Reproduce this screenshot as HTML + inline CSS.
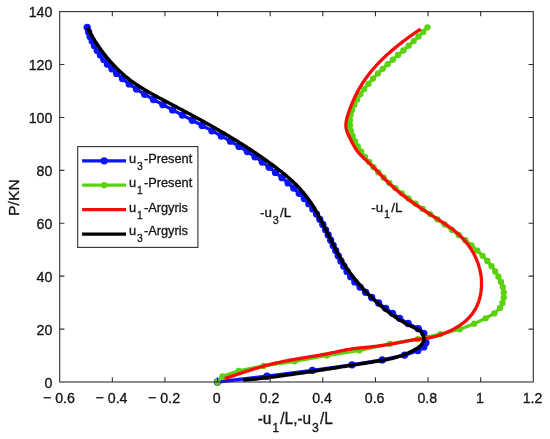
<!DOCTYPE html>
<html><head><meta charset="utf-8"><title>Load-displacement curves</title>
<style>html,body{margin:0;padding:0;background:#fff;width:550px;height:439px;overflow:hidden}</style></head>
<body>
<svg width="550" height="439" viewBox="0 0 550 439" style="display:block;position:absolute;left:0;top:0" font-family="Liberation Sans, Arial, Helvetica, sans-serif" fill="#141414" stroke="#141414" stroke-width="0.3">
<rect width="550" height="439" fill="#fff" stroke="none"/>
<path d="M87.2,27.3 L87.8,29.0 L88.1,30.2 L88.4,31.3 L88.7,32.4 L89.1,33.6 L89.5,34.7 L89.8,35.8 L90.2,37.0 L90.7,38.1 L91.2,39.1 L91.7,40.2 L92.2,41.3 L92.8,42.4 L93.3,43.4 L93.9,44.5 L94.4,45.6 L95.0,46.6 L95.6,47.7 L96.2,48.7 L96.9,49.7 L97.5,50.7 L98.2,51.7 L98.9,52.8 L99.6,53.8 L100.3,54.8 L101.0,55.8 L101.7,56.7 L102.4,57.7 L103.1,58.7 L103.8,59.7 L104.6,60.7 L105.3,61.6 L106.1,62.6 L106.9,63.5 L107.7,64.4 L108.5,65.3 L109.3,66.2 L110.2,67.1 L111.0,68.0 L111.9,68.8 L112.7,69.7 L113.6,70.5 L114.4,71.4 L115.3,72.2 L116.2,73.1 L117.1,73.9 L118.0,74.7 L118.9,75.5 L119.8,76.3 L120.7,77.1 L121.6,77.9 L122.5,78.6 L123.4,79.4 L124.3,80.1 L125.3,80.9 L126.2,81.6 L127.2,82.3 L128.1,83.1 L129.0,83.8 L130.0,84.5 L131.0,85.2 L131.9,85.9 L132.9,86.6 L133.8,87.2 L134.8,87.9 L135.8,88.6 L136.8,89.2 L137.8,89.9 L138.7,90.5 L139.7,91.2 L140.7,91.8 L141.7,92.4 L142.7,93.1 L143.7,93.7 L144.7,94.3 L145.7,94.9 L146.7,95.5 L147.7,96.1 L148.7,96.7 L149.8,97.3 L150.8,97.9 L151.8,98.5 L152.8,99.1 L153.8,99.7 L154.9,100.2 L155.9,100.8 L156.9,101.4 L157.9,102.0 L159.0,102.5 L160.0,103.1 L161.0,103.7 L162.0,104.2 L163.1,104.8 L164.1,105.4 L165.1,105.9 L166.2,106.5 L167.2,107.0 L168.2,107.6 L169.3,108.1 L170.3,108.7 L171.4,109.3 L172.4,109.8 L173.4,110.4 L174.5,110.9 L175.5,111.5 L176.6,112.0 L177.6,112.6 L178.6,113.1 L179.7,113.7 L180.7,114.2 L181.8,114.8 L182.8,115.3 L183.9,115.9 L184.9,116.4 L186.0,117.0 L187.0,117.5 L188.0,118.1 L189.1,118.6 L190.1,119.2 L191.2,119.7 L192.2,120.3 L193.3,120.8 L194.3,121.4 L195.4,121.9 L196.4,122.5 L197.4,123.0 L198.5,123.6 L199.5,124.1 L200.6,124.7 L201.6,125.2 L202.6,125.8 L203.7,126.3 L204.7,126.9 L205.8,127.5 L206.8,128.0 L207.8,128.6 L208.9,129.1 L209.9,129.7 L210.9,130.3 L212.0,130.8 L213.0,131.4 L214.0,131.9 L215.1,132.5 L216.1,133.1 L217.1,133.6 L218.2,134.2 L219.2,134.8 L220.2,135.4 L221.2,135.9 L222.3,136.5 L223.3,137.1 L224.3,137.7 L225.3,138.2 L226.3,138.8 L227.3,139.4 L228.4,140.0 L229.4,140.6 L230.4,141.2 L231.4,141.8 L232.4,142.4 L233.4,143.0 L234.4,143.6 L235.4,144.2 L236.4,144.8 L237.4,145.4 L238.4,146.0 L239.4,146.6 L240.4,147.2 L241.3,147.8 L242.3,148.4 L243.3,149.0 L244.3,149.7 L245.3,150.3 L246.2,150.9 L247.2,151.6 L248.2,152.2 L249.1,152.8 L250.1,153.5 L251.1,154.1 L252.0,154.7 L253.0,155.4 L253.9,156.0 L254.9,156.7 L255.8,157.4 L256.8,158.0 L257.7,158.7 L258.7,159.3 L259.6,160.0 L260.5,160.7 L261.5,161.4 L262.4,162.1 L263.3,162.7 L264.2,163.4 L265.1,164.1 L266.0,164.8 L267.0,165.5 L267.9,166.2 L268.8,166.9 L269.7,167.6 L270.6,168.3 L271.4,169.1 L272.3,169.8 L273.2,170.5 L274.1,171.2 L275.0,172.0 L275.8,172.7 L276.7,173.4 L277.6,174.1 L278.5,174.9 L279.4,175.6 L280.3,176.3 L281.2,177.0 L282.1,177.7 L283.0,178.5 L283.9,179.2 L284.7,179.9 L285.6,180.7 L286.5,181.4 L287.3,182.2 L288.2,183.0 L289.0,183.7 L289.9,184.5 L290.7,185.3 L291.6,186.0 L292.4,186.8 L293.3,187.6 L294.1,188.4 L295.0,189.2 L295.8,190.0 L296.6,190.8 L297.5,191.6 L298.3,192.4 L299.1,193.2 L299.9,194.0 L300.8,194.8 L301.6,195.6 L302.4,196.5 L303.2,197.3 L304.0,198.1 L304.8,199.0 L305.6,199.8 L306.3,200.7 L307.1,201.6 L307.8,202.5 L308.5,203.4 L309.3,204.3 L310.0,205.2 L310.7,206.1 L311.4,207.0 L312.1,208.0 L312.7,208.9 L313.4,209.8 L314.1,210.8 L314.8,211.7 L315.4,212.7 L316.1,213.6 L316.8,214.6 L317.4,215.5 L318.0,216.5 L318.6,217.5 L319.3,218.5 L319.9,219.5 L320.5,220.5 L321.0,221.5 L321.6,222.5 L322.2,223.5 L322.8,224.5 L323.3,225.5 L323.9,226.6 L324.4,227.6 L325.0,228.6 L325.5,229.7 L326.1,230.7 L326.6,231.7 L327.1,232.8 L327.6,233.8 L328.2,234.9 L328.7,235.9 L329.2,237.0 L329.7,238.1 L330.2,239.1 L330.7,240.2 L331.2,241.2 L331.7,242.3 L332.2,243.4 L332.7,244.4 L333.2,245.5 L333.7,246.6 L334.2,247.6 L334.7,248.7 L335.3,249.8 L335.8,250.8 L336.3,251.9 L336.8,252.9 L337.3,254.0 L337.8,255.1 L338.4,256.1 L338.9,257.2 L339.4,258.2 L340.0,259.3 L340.5,260.3 L341.1,261.3 L341.7,262.4 L342.2,263.4 L342.8,264.4 L343.4,265.5 L344.0,266.5 L344.6,267.5 L345.2,268.5 L345.8,269.5 L346.4,270.5 L347.1,271.5 L347.7,272.5 L348.4,273.5 L349.1,274.4 L349.7,275.4 L350.4,276.4 L351.1,277.3 L351.9,278.3 L352.6,279.2 L353.3,280.1 L354.1,281.0 L354.9,281.9 L355.7,282.8 L356.5,283.6 L357.3,284.5 L358.2,285.3 L359.0,286.1 L359.9,287.0 L360.7,287.8 L361.6,288.6 L362.5,289.4 L363.3,290.2 L364.2,291.0 L365.1,291.8 L366.0,292.6 L366.9,293.4 L367.8,294.1 L368.7,294.9 L369.6,295.7 L370.5,296.5 L371.4,297.2 L372.3,298.0 L373.2,298.7 L374.1,299.5 L375.1,300.2 L376.0,300.9 L376.9,301.7 L377.8,302.4 L378.8,303.1 L379.7,303.8 L380.7,304.6 L381.6,305.3 L382.5,306.0 L383.5,306.7 L384.4,307.4 L385.4,308.1 L386.3,308.7 L387.3,309.4 L388.2,310.1 L389.1,310.8 L390.1,311.5 L391.0,312.2 L391.9,312.9 L392.9,313.6 L393.8,314.3 L394.8,315.0 L395.7,315.6 L396.7,316.3 L397.6,316.9 L398.6,317.6 L399.5,318.2 L400.5,318.9 L401.4,319.5 L402.4,320.1 L403.4,320.7 L404.4,321.3 L405.4,321.9 L406.4,322.5 L407.4,323.1 L408.4,323.6 L409.4,324.2 L410.4,324.7 L411.5,325.3 L412.5,325.8 L413.5,326.3 L414.6,326.8 L415.7,327.3 L416.8,327.9 L417.8,328.4 L418.9,329.0 L419.9,329.7 L420.9,330.4 L421.8,331.1 L422.7,332.0 L423.5,332.9 L424.2,334.0 L424.9,335.1 L425.3,336.3 L425.9,342.7 L423.8,346.9 L417.9,350.6 L404.6,355.1 L382.2,359.9 L352.0,364.8 L312.4,370.3 L267.0,376.2 L217.4,382.0" fill="none" stroke="#0a14f5" stroke-width="3.3" stroke-linejoin="round"/>
<g fill="#0a14f5" stroke="none"><circle cx="87.2" cy="27.3" r="3.65"/><circle cx="88.6" cy="31.9" r="3.65"/><circle cx="90.1" cy="36.5" r="3.65"/><circle cx="92.2" cy="41.1" r="3.65"/><circle cx="94.5" cy="45.7" r="3.65"/><circle cx="97.3" cy="50.4" r="3.65"/><circle cx="100.4" cy="55.0" r="3.65"/><circle cx="103.8" cy="59.6" r="3.65"/><circle cx="107.5" cy="64.2" r="3.65"/><circle cx="111.9" cy="68.8" r="3.65"/><circle cx="116.6" cy="73.4" r="3.65"/><circle cx="122.5" cy="78.6" r="3.65"/><circle cx="129.2" cy="83.9" r="3.65"/><circle cx="136.5" cy="89.1" r="3.65"/><circle cx="144.7" cy="94.3" r="3.65"/><circle cx="153.5" cy="99.5" r="3.65"/><circle cx="162.9" cy="104.7" r="3.65"/><circle cx="172.6" cy="109.9" r="3.65"/><circle cx="182.4" cy="115.1" r="3.65"/><circle cx="192.3" cy="120.3" r="3.65"/><circle cx="202.2" cy="125.5" r="3.65"/><circle cx="211.9" cy="130.8" r="3.65"/><circle cx="221.3" cy="136.0" r="3.65"/><circle cx="230.4" cy="141.2" r="3.65"/><circle cx="239.0" cy="146.4" r="3.65"/><circle cx="247.3" cy="151.6" r="3.65"/><circle cx="255.0" cy="156.8" r="3.65"/><circle cx="262.3" cy="162.0" r="3.65"/><circle cx="269.2" cy="167.2" r="3.65"/><circle cx="275.5" cy="172.4" r="3.65"/><circle cx="282.0" cy="177.7" r="3.65"/><circle cx="288.1" cy="182.9" r="3.65"/><circle cx="293.8" cy="188.1" r="3.65"/><circle cx="299.2" cy="193.3" r="3.65"/><circle cx="304.3" cy="198.5" r="3.65"/><circle cx="308.8" cy="203.7" r="3.65"/><circle cx="312.8" cy="208.9" r="3.65"/><circle cx="316.5" cy="214.1" r="3.65"/><circle cx="319.8" cy="219.3" r="3.65"/><circle cx="322.8" cy="224.5" r="3.65"/><circle cx="325.6" cy="229.8" r="3.65"/><circle cx="328.2" cy="235.0" r="3.65"/><circle cx="330.7" cy="240.2" r="3.65"/><circle cx="333.2" cy="245.4" r="3.65"/><circle cx="335.7" cy="250.6" r="3.65"/><circle cx="338.2" cy="255.8" r="3.65"/><circle cx="340.9" cy="261.0" r="3.65"/><circle cx="343.8" cy="266.2" r="3.65"/><circle cx="347.0" cy="271.4" r="3.65"/><circle cx="350.7" cy="276.7" r="3.65"/><circle cx="354.8" cy="281.9" r="3.65"/><circle cx="360.0" cy="287.1" r="3.65"/><circle cx="365.6" cy="292.3" r="3.65"/><circle cx="371.7" cy="297.5" r="3.65"/><circle cx="378.6" cy="303.0" r="3.65"/><circle cx="385.7" cy="308.3" r="3.65"/><circle cx="392.5" cy="313.3" r="3.65"/><circle cx="399.6" cy="318.3" r="3.65"/><circle cx="408.1" cy="323.5" r="3.65"/><circle cx="418.3" cy="328.7" r="3.65"/><circle cx="423.8" cy="333.3" r="3.65"/><circle cx="425.3" cy="337.8" r="3.65"/><circle cx="425.9" cy="342.7" r="3.65"/><circle cx="423.8" cy="346.9" r="3.65"/><circle cx="417.9" cy="350.6" r="3.65"/><circle cx="404.6" cy="355.1" r="3.65"/><circle cx="382.2" cy="359.9" r="3.65"/><circle cx="352.0" cy="364.8" r="3.65"/><circle cx="312.4" cy="370.3" r="3.65"/><circle cx="267.0" cy="376.2" r="3.65"/><circle cx="217.4" cy="382.0" r="3.65"/></g>
<path d="M427.5,27.3 L426.8,28.0 L426.2,28.7 L425.5,29.4 L424.9,30.1 L424.2,30.8 L423.5,31.5 L422.9,32.2 L422.2,32.9 L421.5,33.5 L420.9,34.2 L420.2,34.9 L419.5,35.6 L418.8,36.2 L418.2,36.9 L417.5,37.5 L416.8,38.2 L416.1,38.8 L415.4,39.5 L414.7,40.1 L414.0,40.8 L413.3,41.4 L412.7,42.1 L412.0,42.7 L411.3,43.3 L410.6,44.0 L409.9,44.6 L409.2,45.2 L408.5,45.9 L407.8,46.5 L407.1,47.1 L406.4,47.7 L405.7,48.3 L405.0,49.0 L404.3,49.6 L403.6,50.2 L402.9,50.8 L402.2,51.4 L401.5,52.1 L400.8,52.7 L400.1,53.3 L399.4,53.9 L398.6,54.5 L397.9,55.1 L397.2,55.8 L396.5,56.4 L395.8,57.0 L395.1,57.6 L394.4,58.2 L393.7,58.9 L393.0,59.5 L392.3,60.1 L391.6,60.7 L390.9,61.4 L390.2,62.0 L389.5,62.6 L388.8,63.2 L388.1,63.9 L387.4,64.5 L386.7,65.2 L386.0,65.8 L385.3,66.4 L384.6,67.1 L383.9,67.7 L383.2,68.4 L382.5,69.0 L381.8,69.7 L381.1,70.3 L380.5,71.0 L379.8,71.7 L379.1,72.3 L378.4,73.0 L377.8,73.7 L377.1,74.3 L376.4,75.0 L375.7,75.7 L375.1,76.4 L374.4,77.1 L373.8,77.8 L373.1,78.5 L372.5,79.2 L371.8,79.9 L371.2,80.6 L370.5,81.3 L369.9,82.1 L369.2,82.8 L368.6,83.5 L368.0,84.3 L367.4,85.0 L366.8,85.8 L366.1,86.5 L365.5,87.3 L364.9,88.1 L364.3,88.9 L363.7,89.6 L363.1,90.4 L362.5,91.2 L362.0,92.0 L361.4,92.8 L360.8,93.6 L360.3,94.4 L359.7,95.3 L359.2,96.1 L358.6,96.9 L358.1,97.8 L357.6,98.6 L357.1,99.4 L356.6,100.3 L356.1,101.1 L355.7,102.0 L355.2,102.8 L354.8,103.7 L354.4,104.6 L354.0,105.4 L353.6,106.3 L353.2,107.2 L352.8,108.1 L352.5,108.9 L352.2,109.8 L351.9,110.7 L351.6,111.6 L351.3,112.4 L351.1,113.3 L350.8,114.2 L350.6,115.1 L350.4,116.0 L350.3,116.9 L350.1,117.8 L350.0,118.7 L349.9,119.5 L349.9,120.4 L349.8,121.3 L349.8,122.2 L349.8,123.1 L349.8,124.0 L349.9,124.9 L350.0,125.7 L350.1,126.6 L350.2,127.5 L350.4,128.4 L350.6,129.3 L350.8,130.2 L351.0,131.0 L351.2,131.9 L351.5,132.8 L351.7,133.6 L352.0,134.5 L352.4,135.4 L352.7,136.2 L353.0,137.1 L353.4,138.0 L353.8,138.8 L354.2,139.7 L354.6,140.5 L355.0,141.4 L355.4,142.2 L355.9,143.0 L356.4,143.9 L356.8,144.7 L357.3,145.5 L357.8,146.4 L358.3,147.2 L358.8,148.0 L359.3,148.8 L359.9,149.6 L360.4,150.4 L360.9,151.2 L361.5,152.0 L362.0,152.8 L362.6,153.6 L363.2,154.4 L363.7,155.2 L364.3,155.9 L364.9,156.7 L365.4,157.5 L366.0,158.2 L366.6,159.0 L367.2,159.7 L367.8,160.5 L368.4,161.2 L369.0,161.9 L369.6,162.7 L370.2,163.4 L370.8,164.1 L371.4,164.8 L372.0,165.5 L372.7,166.3 L373.3,167.0 L373.9,167.7 L374.6,168.4 L375.2,169.1 L375.8,169.7 L376.5,170.4 L377.1,171.1 L377.8,171.8 L378.4,172.5 L379.1,173.1 L379.8,173.8 L380.4,174.5 L381.1,175.1 L381.8,175.8 L382.4,176.5 L383.1,177.1 L383.8,177.8 L384.5,178.4 L385.1,179.1 L385.8,179.7 L386.5,180.3 L387.2,181.0 L387.9,181.6 L388.6,182.2 L389.3,182.8 L390.0,183.5 L390.7,184.1 L391.4,184.7 L392.1,185.3 L392.8,185.9 L393.5,186.5 L394.3,187.2 L395.0,187.8 L395.7,188.4 L396.4,189.0 L397.2,189.6 L397.9,190.2 L398.6,190.8 L399.3,191.3 L400.1,191.9 L400.8,192.5 L401.5,193.1 L402.3,193.7 L403.0,194.3 L403.8,194.9 L404.5,195.4 L405.3,196.0 L406.0,196.6 L406.8,197.2 L407.5,197.7 L408.3,198.3 L409.0,198.9 L409.8,199.4 L410.5,200.0 L411.3,200.6 L412.0,201.1 L412.8,201.7 L413.6,202.3 L414.3,202.8 L415.1,203.4 L415.9,204.0 L416.6,204.5 L417.4,205.1 L418.2,205.6 L418.9,206.2 L419.7,206.7 L420.5,207.3 L421.2,207.9 L422.0,208.4 L422.8,209.0 L423.6,209.5 L424.3,210.1 L425.1,210.6 L425.9,211.2 L426.7,211.7 L427.4,212.3 L428.2,212.8 L429.0,213.4 L429.8,213.9 L430.5,214.5 L431.3,215.0 L432.1,215.6 L432.9,216.1 L433.7,216.7 L434.4,217.2 L435.2,217.8 L436.0,218.4 L436.8,218.9 L437.6,219.5 L438.3,220.0 L439.1,220.6 L439.9,221.1 L440.7,221.7 L441.5,222.2 L442.2,222.8 L443.0,223.4 L443.8,223.9 L444.6,224.5 L445.3,225.0 L446.1,225.6 L446.9,226.2 L447.7,226.7 L448.5,227.3 L449.2,227.9 L450.0,228.4 L450.8,229.0 L451.5,229.6 L452.3,230.2 L453.1,230.7 L453.9,231.3 L454.6,231.9 L455.4,232.5 L456.2,233.1 L456.9,233.6 L457.7,234.2 L458.5,234.8 L459.2,235.4 L460.0,236.0 L460.7,236.6 L461.5,237.2 L462.3,237.8 L463.0,238.4 L463.8,239.0 L464.5,239.6 L465.3,240.2 L466.0,240.8 L466.8,241.4 L467.5,242.0 L468.2,242.6 L469.0,243.3 L469.7,243.9 L470.5,244.5 L471.2,245.1 L471.9,245.8 L472.6,246.4 L473.4,247.0 L474.1,247.7 L474.8,248.3 L475.5,249.0 L476.2,249.6 L476.9,250.3 L477.6,250.9 L478.3,251.6 L479.0,252.2 L479.7,252.9 L480.4,253.6 L481.0,254.2 L481.7,254.9 L482.4,255.6 L483.0,256.3 L483.7,257.0 L484.3,257.7 L485.0,258.4 L485.6,259.1 L486.2,259.8 L486.9,260.5 L487.5,261.2 L488.1,261.9 L488.7,262.6 L489.3,263.3 L489.9,264.1 L490.5,264.8 L491.0,265.5 L491.6,266.3 L492.2,267.0 L492.7,267.8 L493.3,268.5 L493.8,269.3 L494.3,270.0 L494.8,270.8 L495.3,271.6 L495.8,272.4 L496.3,273.2 L496.8,273.9 L497.3,274.7 L497.8,275.5 L498.2,276.3 L498.7,277.2 L499.1,278.0 L499.5,278.8 L499.9,279.6 L500.3,280.4 L500.7,281.3 L501.1,282.1 L501.4,283.0 L501.8,283.8 L502.1,284.7 L502.4,285.5 L502.6,286.4 L502.9,287.2 L503.1,288.1 L503.3,289.0 L503.5,289.9 L503.6,290.7 L503.7,291.6 L503.8,292.5 L503.9,293.4 L503.9,294.3 L503.9,295.2 L503.9,296.1 L503.8,297.0 L503.8,297.9 L503.6,298.8 L503.4,299.7 L503.2,300.6 L503.0,301.5 L502.7,302.4 L502.4,303.3 L502.0,304.2 L501.6,305.1 L501.1,306.1 L500.6,307.0 L500.1,307.9 L494.3,313.4 L485.6,318.3 L474.3,323.7 L459.7,329.2 L440.4,334.1 L417.8,339.2 L389.7,343.8 L359.3,350.4 L326.8,355.5 L294.6,361.3 L263.6,365.9 L238.8,370.9 L222.5,376.4 L217.4,382.0" fill="none" stroke="#5ad20f" stroke-width="3.3" stroke-linejoin="round"/>
<g fill="#5ad20f" stroke="none"><circle cx="427.5" cy="27.3" r="3.15"/><circle cx="423.2" cy="31.9" r="3.15"/><circle cx="418.5" cy="36.5" r="3.15"/><circle cx="413.7" cy="41.1" r="3.15"/><circle cx="408.6" cy="45.7" r="3.15"/><circle cx="403.4" cy="50.4" r="3.15"/><circle cx="398.1" cy="55.0" r="3.15"/><circle cx="392.9" cy="59.6" r="3.15"/><circle cx="387.7" cy="64.2" r="3.15"/><circle cx="382.7" cy="68.8" r="3.15"/><circle cx="378.0" cy="73.4" r="3.15"/><circle cx="373.0" cy="78.6" r="3.15"/><circle cx="368.4" cy="83.9" r="3.15"/><circle cx="364.2" cy="89.1" r="3.15"/><circle cx="360.4" cy="94.3" r="3.15"/><circle cx="357.1" cy="99.5" r="3.15"/><circle cx="354.3" cy="104.7" r="3.15"/><circle cx="352.1" cy="109.9" r="3.15"/><circle cx="350.6" cy="115.1" r="3.15"/><circle cx="349.9" cy="120.3" r="3.15"/><circle cx="350.0" cy="125.5" r="3.15"/><circle cx="350.9" cy="130.8" r="3.15"/><circle cx="352.6" cy="136.0" r="3.15"/><circle cx="354.9" cy="141.2" r="3.15"/><circle cx="357.8" cy="146.4" r="3.15"/><circle cx="361.2" cy="151.6" r="3.15"/><circle cx="365.0" cy="156.8" r="3.15"/><circle cx="369.1" cy="162.0" r="3.15"/><circle cx="373.5" cy="167.2" r="3.15"/><circle cx="378.4" cy="172.4" r="3.15"/><circle cx="383.7" cy="177.7" r="3.15"/><circle cx="389.3" cy="182.9" r="3.15"/><circle cx="395.4" cy="188.1" r="3.15"/><circle cx="401.8" cy="193.3" r="3.15"/><circle cx="408.5" cy="198.5" r="3.15"/><circle cx="415.5" cy="203.7" r="3.15"/><circle cx="422.7" cy="208.9" r="3.15"/><circle cx="430.0" cy="214.1" r="3.15"/><circle cx="437.4" cy="219.3" r="3.15"/><circle cx="444.7" cy="224.5" r="3.15"/><circle cx="451.8" cy="229.8" r="3.15"/><circle cx="458.7" cy="235.0" r="3.15"/><circle cx="465.3" cy="240.2" r="3.15"/><circle cx="471.5" cy="245.4" r="3.15"/><circle cx="477.3" cy="250.6" r="3.15"/><circle cx="482.6" cy="255.8" r="3.15"/><circle cx="487.3" cy="261.0" r="3.15"/><circle cx="491.6" cy="266.2" r="3.15"/><circle cx="495.2" cy="271.4" r="3.15"/><circle cx="498.4" cy="276.7" r="3.15"/><circle cx="501.0" cy="281.9" r="3.15"/><circle cx="502.8" cy="287.1" r="3.15"/><circle cx="503.8" cy="292.3" r="3.15"/><circle cx="503.8" cy="297.5" r="3.15"/><circle cx="502.5" cy="303.0" r="3.15"/><circle cx="500.1" cy="307.9" r="3.15"/><circle cx="494.3" cy="313.4" r="3.15"/><circle cx="485.6" cy="318.3" r="3.15"/><circle cx="474.3" cy="323.7" r="3.15"/><circle cx="459.7" cy="329.2" r="3.15"/><circle cx="440.4" cy="334.1" r="3.15"/><circle cx="417.8" cy="339.2" r="3.15"/><circle cx="389.7" cy="343.8" r="3.15"/><circle cx="359.3" cy="350.4" r="3.15"/><circle cx="326.8" cy="355.5" r="3.15"/><circle cx="294.6" cy="361.3" r="3.15"/><circle cx="263.6" cy="365.9" r="3.15"/><circle cx="238.8" cy="370.9" r="3.15"/><circle cx="222.5" cy="376.4" r="3.15"/><circle cx="217.4" cy="382.0" r="3.15"/></g>
<path d="M420.6,29.1 L419.7,29.7 L418.8,30.3 L418.0,30.9 L417.1,31.5 L416.2,32.0 L415.4,32.6 L414.5,33.2 L413.6,33.8 L412.7,34.5 L411.9,35.1 L411.0,35.7 L410.1,36.3 L409.3,36.9 L408.4,37.5 L407.6,38.1 L406.7,38.8 L405.9,39.4 L405.0,40.0 L404.2,40.7 L403.3,41.3 L402.5,41.9 L401.6,42.6 L400.8,43.2 L400.0,43.9 L399.1,44.5 L398.3,45.2 L397.5,45.9 L396.6,46.5 L395.8,47.2 L395.0,47.9 L394.2,48.5 L393.4,49.2 L392.6,49.9 L391.8,50.6 L391.0,51.3 L390.2,52.0 L389.4,52.7 L388.6,53.4 L387.8,54.1 L387.0,54.8 L386.2,55.5 L385.5,56.2 L384.7,56.9 L383.9,57.7 L383.2,58.4 L382.4,59.1 L381.7,59.9 L380.9,60.6 L380.2,61.4 L379.4,62.1 L378.7,62.9 L378.0,63.7 L377.3,64.4 L376.5,65.2 L375.8,66.0 L375.1,66.8 L374.4,67.5 L373.7,68.3 L373.1,69.1 L372.4,69.9 L371.7,70.7 L371.0,71.6 L370.4,72.4 L369.7,73.2 L369.1,74.0 L368.4,74.9 L367.8,75.7 L367.2,76.5 L366.5,77.4 L365.9,78.2 L365.3,79.1 L364.7,80.0 L364.1,80.8 L363.5,81.7 L362.9,82.6 L362.4,83.5 L361.8,84.4 L361.2,85.3 L360.7,86.2 L360.1,87.1 L359.6,88.0 L359.1,88.9 L358.5,89.9 L358.0,90.8 L357.5,91.7 L357.0,92.7 L356.5,93.6 L356.1,94.6 L355.6,95.5 L355.1,96.5 L354.6,97.5 L354.2,98.4 L353.8,99.4 L353.3,100.4 L352.9,101.3 L352.5,102.3 L352.1,103.3 L351.7,104.3 L351.3,105.3 L350.9,106.3 L350.5,107.3 L350.1,108.3 L349.7,109.3 L349.4,110.3 L349.0,111.3 L348.7,112.3 L348.4,113.3 L348.1,114.3 L347.7,115.3 L347.4,116.3 L347.1,117.3 L346.9,118.3 L346.6,119.3 L346.4,120.3 L346.2,121.3 L346.1,122.3 L346.0,123.3 L345.9,124.3 L345.9,125.3 L345.9,126.3 L346.0,127.3 L346.1,128.3 L346.4,129.3 L346.6,130.3 L346.9,131.3 L347.3,132.3 L347.7,133.3 L348.1,134.3 L348.6,135.3 L349.0,136.3 L349.5,137.3 L350.0,138.2 L350.5,139.2 L351.0,140.2 L351.5,141.2 L352.0,142.1 L352.4,143.1 L352.9,144.0 L353.5,145.0 L354.0,145.9 L354.5,146.8 L355.0,147.7 L355.6,148.6 L356.2,149.5 L356.8,150.3 L357.4,151.2 L358.0,152.0 L358.7,152.8 L359.4,153.6 L360.1,154.3 L360.8,155.1 L361.5,155.9 L362.2,156.6 L363.0,157.3 L363.8,158.1 L364.5,158.8 L365.3,159.5 L366.1,160.2 L366.9,160.9 L367.6,161.6 L368.4,162.4 L369.2,163.1 L370.0,163.8 L370.7,164.5 L371.5,165.3 L372.2,166.0 L373.0,166.8 L373.7,167.5 L374.5,168.3 L375.2,169.0 L376.0,169.8 L376.7,170.6 L377.4,171.3 L378.2,172.1 L378.9,172.9 L379.6,173.6 L380.4,174.4 L381.1,175.2 L381.8,175.9 L382.5,176.7 L383.3,177.5 L384.0,178.2 L384.8,179.0 L385.5,179.8 L386.2,180.5 L387.0,181.3 L387.7,182.0 L388.5,182.7 L389.3,183.5 L390.0,184.2 L390.8,184.9 L391.6,185.6 L392.4,186.4 L393.1,187.1 L393.9,187.8 L394.7,188.5 L395.5,189.2 L396.3,189.8 L397.1,190.5 L397.9,191.2 L398.7,191.9 L399.5,192.6 L400.4,193.2 L401.2,193.9 L402.0,194.5 L402.8,195.2 L403.7,195.9 L404.5,196.5 L405.3,197.1 L406.2,197.8 L407.0,198.4 L407.9,199.1 L408.7,199.7 L409.5,200.3 L410.4,200.9 L411.3,201.6 L412.1,202.2 L413.0,202.8 L413.8,203.4 L414.7,204.0 L415.6,204.6 L416.4,205.2 L417.3,205.8 L418.2,206.4 L419.1,207.0 L419.9,207.6 L420.8,208.2 L421.7,208.8 L422.6,209.4 L423.5,210.0 L424.3,210.5 L425.2,211.1 L426.1,211.7 L427.0,212.3 L427.9,212.9 L428.8,213.4 L429.7,214.0 L430.6,214.6 L431.5,215.2 L432.4,215.7 L433.2,216.3 L434.1,216.9 L435.0,217.4 L435.9,218.0 L436.8,218.6 L437.7,219.1 L438.6,219.7 L439.5,220.3 L440.4,220.9 L441.3,221.4 L442.2,222.0 L443.0,222.6 L443.9,223.2 L444.8,223.8 L445.7,224.4 L446.5,225.0 L447.4,225.6 L448.3,226.2 L449.1,226.8 L450.0,227.4 L450.8,228.0 L451.7,228.6 L452.5,229.3 L453.3,229.9 L454.1,230.6 L455.0,231.2 L455.8,231.9 L456.6,232.6 L457.4,233.3 L458.1,234.0 L458.9,234.7 L459.7,235.4 L460.4,236.1 L461.2,236.8 L461.9,237.6 L462.6,238.3 L463.4,239.1 L464.1,239.9 L464.8,240.7 L465.5,241.5 L466.1,242.3 L466.8,243.1 L467.4,243.9 L468.1,244.8 L468.7,245.6 L469.3,246.5 L469.9,247.4 L470.5,248.3 L471.1,249.2 L471.7,250.1 L472.2,251.0 L472.8,251.9 L473.3,252.8 L473.8,253.7 L474.3,254.7 L474.8,255.6 L475.2,256.6 L475.7,257.6 L476.1,258.5 L476.5,259.5 L476.9,260.5 L477.3,261.5 L477.7,262.5 L478.1,263.5 L478.4,264.5 L478.7,265.5 L479.0,266.5 L479.3,267.6 L479.6,268.6 L479.9,269.6 L480.1,270.7 L480.3,271.7 L480.5,272.8 L480.7,273.8 L480.9,274.9 L481.0,275.9 L481.2,277.0 L481.3,278.1 L481.4,279.1 L481.4,280.2 L481.5,281.2 L481.5,282.3 L481.5,283.4 L481.5,284.4 L481.5,285.5 L481.5,286.6 L481.4,287.6 L481.3,288.7 L481.3,289.7 L481.1,290.8 L481.0,291.8 L480.8,292.9 L480.7,293.9 L480.5,294.9 L480.2,296.0 L480.0,297.0 L479.8,298.0 L479.5,299.0 L479.2,300.0 L478.9,301.0 L478.5,302.0 L478.2,303.0 L477.8,303.9 L477.4,304.9 L477.0,305.8 L476.5,306.8 L476.1,307.7 L475.6,308.6 L475.1,309.5 L474.5,310.4 L474.0,311.3 L473.4,312.1 L472.8,313.0 L472.2,313.8 L471.6,314.6 L470.9,315.4 L470.3,316.2 L469.6,317.0 L468.9,317.8 L468.1,318.5 L467.4,319.3 L466.6,320.0 L465.8,320.7 L465.0,321.4 L464.2,322.1 L463.4,322.7 L462.5,323.4 L461.7,324.0 L460.8,324.7 L459.9,325.3 L459.0,325.9 L458.1,326.5 L457.2,327.0 L456.3,327.6 L455.3,328.1 L454.4,328.7 L453.4,329.2 L452.5,329.7 L451.5,330.2 L450.5,330.7 L449.5,331.1 L448.5,331.6 L447.5,332.0 L446.5,332.5 L445.5,332.9 L444.5,333.3 L443.5,333.7 L442.5,334.1 L441.5,334.4 L440.4,334.8 L439.4,335.1 L438.4,335.4 L437.4,335.8 L436.4,336.1 L435.3,336.4 L434.3,336.6 L433.3,336.9 L432.3,337.1 L431.3,337.4 L430.3,337.6 L429.3,337.8 L428.3,338.0 L427.3,338.2 L426.3,338.4 L425.3,338.5 L424.2,338.7 L423.2,338.8 L422.2,338.9 L421.1,339.0 L420.1,339.1 L419.0,339.2 L418.0,339.3 L416.9,339.4 L415.8,339.5 L414.8,339.6 L413.7,339.8 L412.7,340.0 L411.7,340.1 L410.6,340.3 L409.6,340.5 L408.5,340.7 L407.5,341.0 L406.5,341.2 L405.4,341.4 L404.4,341.6 L403.4,341.8 L402.3,342.0 L401.3,342.2 L400.2,342.4 L399.2,342.6 L398.2,342.8 L397.1,343.0 L396.1,343.2 L395.1,343.4 L394.0,343.6 L393.0,343.8 L391.9,343.9 L390.9,344.1 L389.8,344.3 L388.8,344.5 L387.8,344.6 L386.7,344.8 L385.7,345.0 L384.6,345.1 L383.6,345.3 L382.5,345.4 L381.5,345.6 L380.4,345.7 L379.4,345.9 L378.4,346.0 L377.3,346.1 L376.3,346.3 L375.2,346.4 L374.2,346.5 L373.1,346.6 L372.1,346.7 L371.0,346.9 L370.0,347.0 L368.9,347.1 L367.8,347.2 L366.8,347.3 L365.7,347.4 L364.7,347.5 L363.6,347.6 L362.6,347.7 L361.5,347.8 L360.5,347.9 L359.4,348.0 L358.4,348.1 L357.3,348.2 L356.3,348.3 L355.2,348.4 L354.2,348.6 L353.1,348.7 L352.1,348.9 L351.0,349.0 L350.0,349.2 L348.9,349.3 L347.9,349.5 L346.9,349.7 L345.8,349.9 L344.8,350.1 L343.8,350.3 L342.7,350.5 L341.7,350.7 L340.7,351.0 L339.6,351.2 L338.6,351.4 L337.6,351.6 L336.5,351.8 L335.5,352.1 L334.5,352.3 L333.4,352.5 L332.4,352.7 L331.4,352.9 L330.3,353.2 L329.3,353.4 L328.3,353.6 L327.2,353.8 L326.2,354.0 L325.2,354.2 L324.1,354.4 L323.1,354.5 L322.0,354.7 L321.0,354.9 L320.0,355.1 L318.9,355.3 L317.9,355.5 L316.8,355.6 L315.8,355.8 L314.7,356.0 L313.7,356.2 L312.7,356.3 L311.6,356.5 L310.6,356.7 L309.5,356.9 L308.5,357.0 L307.5,357.2 L306.4,357.4 L305.4,357.6 L304.3,357.7 L303.3,357.9 L302.2,358.1 L301.2,358.2 L300.2,358.4 L299.1,358.6 L298.1,358.8 L297.0,358.9 L296.0,359.1 L294.9,359.3 L293.9,359.5 L292.9,359.7 L291.8,359.9 L290.8,360.0 L289.7,360.2 L288.7,360.4 L287.7,360.6 L286.6,360.8 L285.6,361.0 L284.6,361.2 L283.5,361.4 L282.5,361.6 L281.4,361.8 L280.4,362.0 L279.4,362.3 L278.3,362.5 L277.3,362.7 L276.3,362.9 L275.3,363.2 L274.2,363.4 L273.2,363.6 L272.2,363.9 L271.1,364.1 L270.1,364.4 L269.1,364.6 L268.1,364.9 L267.0,365.2 L266.0,365.4 L265.0,365.7 L264.0,366.0 L263.0,366.3 L261.9,366.6 L260.9,366.9 L259.9,367.2 L258.9,367.5 L257.9,367.8 L256.9,368.1 L255.8,368.4 L254.8,368.7 L253.8,369.0 L252.8,369.3 L251.8,369.6 L250.8,369.9 L249.8,370.3 L248.8,370.6 L247.8,370.9 L246.7,371.2 L245.7,371.6 L244.7,371.9 L243.7,372.2 L242.7,372.6 L241.7,372.9 L240.7,373.2 L239.7,373.6 L238.7,373.9 L237.7,374.2 L236.7,374.6 L235.7,374.9 L234.7,375.3 L233.7,375.6 L232.7,375.9 L231.7,376.3 L230.7,376.6 L229.7,376.9 L228.7,377.3 L227.7,377.6 L226.7,377.9 L225.7,378.3 L224.7,378.6" fill="none" stroke="#fb0a0a" stroke-width="3.3" stroke-linejoin="round"/>
<path d="M87.5,27.9 L88.1,29.1 L88.7,30.2 L89.3,31.3 L90.0,32.5 L90.6,33.6 L91.2,34.8 L91.9,35.9 L92.6,37.0 L93.3,38.2 L93.9,39.3 L94.6,40.4 L95.3,41.5 L96.1,42.6 L96.8,43.7 L97.5,44.8 L98.3,45.9 L99.0,47.0 L99.8,48.1 L100.6,49.2 L101.3,50.3 L102.1,51.3 L102.9,52.4 L103.7,53.5 L104.5,54.5 L105.4,55.5 L106.2,56.6 L107.0,57.6 L107.9,58.6 L108.8,59.7 L109.6,60.7 L110.5,61.7 L111.4,62.7 L112.3,63.6 L113.2,64.6 L114.1,65.6 L115.0,66.5 L115.9,67.5 L116.9,68.4 L117.8,69.4 L118.8,70.3 L119.7,71.2 L120.7,72.1 L121.7,73.0 L122.7,73.9 L123.7,74.8 L124.7,75.6 L125.7,76.5 L126.7,77.3 L127.7,78.1 L128.7,79.0 L129.8,79.8 L130.8,80.6 L131.9,81.4 L133.0,82.1 L134.0,82.9 L135.1,83.6 L136.2,84.4 L137.3,85.1 L138.4,85.8 L139.5,86.5 L140.6,87.2 L141.7,87.9 L142.8,88.6 L143.9,89.3 L145.1,90.0 L146.2,90.6 L147.3,91.3 L148.5,92.0 L149.6,92.6 L150.8,93.3 L151.9,93.9 L153.1,94.5 L154.2,95.2 L155.4,95.8 L156.5,96.4 L157.7,97.0 L158.9,97.7 L160.0,98.3 L161.2,98.9 L162.4,99.5 L163.5,100.1 L164.7,100.8 L165.9,101.4 L167.1,102.0 L168.2,102.6 L169.4,103.2 L170.6,103.8 L171.7,104.5 L172.9,105.1 L174.1,105.7 L175.3,106.3 L176.4,106.9 L177.6,107.6 L178.8,108.2 L179.9,108.8 L181.1,109.4 L182.3,110.0 L183.4,110.7 L184.6,111.3 L185.8,111.9 L187.0,112.5 L188.1,113.2 L189.3,113.8 L190.5,114.4 L191.6,115.1 L192.8,115.7 L194.0,116.3 L195.1,117.0 L196.3,117.6 L197.4,118.2 L198.6,118.9 L199.8,119.5 L200.9,120.1 L202.1,120.8 L203.2,121.4 L204.4,122.0 L205.5,122.7 L206.7,123.3 L207.9,124.0 L209.0,124.6 L210.2,125.3 L211.3,125.9 L212.5,126.6 L213.6,127.2 L214.7,127.9 L215.9,128.5 L217.0,129.2 L218.2,129.8 L219.3,130.5 L220.5,131.2 L221.6,131.8 L222.7,132.5 L223.9,133.1 L225.0,133.8 L226.1,134.5 L227.3,135.2 L228.4,135.8 L229.5,136.5 L230.7,137.2 L231.8,137.9 L232.9,138.6 L234.0,139.2 L235.2,139.9 L236.3,140.6 L237.4,141.3 L238.5,142.0 L239.6,142.7 L240.8,143.4 L241.9,144.1 L243.0,144.8 L244.1,145.5 L245.2,146.2 L246.3,146.9 L247.4,147.6 L248.5,148.4 L249.6,149.1 L250.7,149.8 L251.8,150.5 L252.9,151.3 L254.0,152.0 L255.1,152.7 L256.2,153.5 L257.3,154.2 L258.4,155.0 L259.5,155.7 L260.6,156.5 L261.7,157.2 L262.8,158.0 L263.9,158.7 L264.9,159.5 L266.0,160.3 L267.1,161.0 L268.2,161.8 L269.3,162.6 L270.3,163.4 L271.4,164.2 L272.5,165.0 L273.5,165.7 L274.6,166.5 L275.7,167.3 L276.7,168.1 L277.8,169.0 L278.9,169.8 L279.9,170.6 L281.0,171.4 L282.0,172.2 L283.0,173.1 L284.1,173.9 L285.1,174.8 L286.1,175.6 L287.1,176.5 L288.1,177.3 L289.1,178.2 L290.1,179.1 L291.1,180.0 L292.1,180.9 L293.1,181.8 L294.0,182.7 L295.0,183.6 L295.9,184.5 L296.9,185.5 L297.8,186.4 L298.7,187.4 L299.6,188.3 L300.5,189.3 L301.3,190.3 L302.2,191.3 L303.1,192.2 L303.9,193.3 L304.7,194.3 L305.5,195.3 L306.3,196.3 L307.1,197.4 L307.9,198.4 L308.6,199.5 L309.4,200.6 L310.1,201.7 L310.9,202.7 L311.6,203.8 L312.3,204.9 L313.0,206.0 L313.7,207.2 L314.4,208.3 L315.0,209.4 L315.7,210.5 L316.4,211.7 L317.0,212.8 L317.7,214.0 L318.3,215.1 L318.9,216.3 L319.6,217.5 L320.2,218.6 L320.8,219.8 L321.4,221.0 L322.0,222.1 L322.7,223.3 L323.3,224.5 L323.9,225.7 L324.5,226.9 L325.0,228.1 L325.6,229.3 L326.2,230.4 L326.8,231.6 L327.4,232.8 L328.0,234.0 L328.6,235.2 L329.2,236.4 L329.8,237.6 L330.4,238.8 L331.0,240.0 L331.6,241.2 L332.1,242.4 L332.7,243.5 L333.3,244.7 L334.0,245.9 L334.6,247.1 L335.2,248.3 L335.8,249.4 L336.4,250.6 L337.0,251.8 L337.7,252.9 L338.3,254.1 L338.9,255.3 L339.6,256.4 L340.2,257.6 L340.9,258.7 L341.5,259.8 L342.2,261.0 L342.9,262.1 L343.6,263.2 L344.3,264.3 L345.0,265.4 L345.7,266.5 L346.4,267.6 L347.2,268.7 L347.9,269.8 L348.6,270.8 L349.4,271.9 L350.2,273.0 L350.9,274.0 L351.7,275.1 L352.5,276.1 L353.3,277.1 L354.1,278.2 L355.0,279.2 L355.8,280.2 L356.6,281.2 L357.5,282.2 L358.3,283.2 L359.2,284.2 L360.0,285.2 L360.9,286.2 L361.8,287.2 L362.7,288.2 L363.6,289.2 L364.5,290.1 L365.4,291.1 L366.3,292.1 L367.2,293.0 L368.2,294.0 L369.1,294.9 L370.1,295.9 L371.0,296.8 L372.0,297.8 L373.0,298.7 L373.9,299.7 L374.9,300.6 L375.9,301.5 L376.9,302.4 L377.9,303.3 L378.9,304.2 L379.9,305.1 L380.9,306.0 L382.0,306.9 L383.0,307.7 L384.0,308.6 L385.1,309.4 L386.1,310.3 L387.1,311.1 L388.2,311.9 L389.2,312.7 L390.3,313.5 L391.4,314.3 L392.4,315.1 L393.5,315.8 L394.5,316.5 L395.6,317.3 L396.7,318.0 L397.8,318.7 L398.8,319.4 L399.9,320.0 L401.0,320.7 L402.1,321.3 L403.2,322.0 L404.3,322.6 L405.5,323.2 L406.6,323.9 L407.8,324.5 L408.9,325.1 L410.1,325.7 L411.3,326.3 L412.6,326.9 L413.8,327.5 L415.1,328.1 L416.3,328.7 L417.6,329.4 L418.7,330.1 L419.8,330.9 L420.8,331.7 L421.7,332.6 L422.4,333.7 L423.0,334.8 L423.5,335.9 L423.8,337.1 L423.9,338.3 L423.9,339.5 L423.7,340.7 L423.3,341.8 L422.8,342.9 L422.1,343.9 L421.3,344.9 L420.4,345.8 L419.3,346.7 L418.2,347.6 L417.0,348.4 L415.8,349.1 L414.5,349.8 L413.3,350.5 L412.0,351.2 L410.7,351.8 L409.4,352.4 L408.1,353.0 L406.8,353.6 L405.5,354.1 L404.3,354.6 L403.0,355.1 L401.7,355.5 L400.5,356.0 L399.2,356.4 L397.9,356.8 L396.6,357.2 L395.4,357.5 L394.1,357.9 L392.8,358.2 L391.6,358.5 L390.3,358.8 L389.0,359.1 L387.8,359.4 L386.5,359.6 L385.2,359.9 L384.0,360.1 L382.7,360.3 L381.4,360.6 L380.2,360.8 L378.9,361.0 L377.6,361.2 L376.4,361.4 L375.1,361.6 L373.8,361.8 L372.6,362.0 L371.3,362.2 L370.0,362.4 L368.7,362.6 L367.5,362.8 L366.2,363.0 L364.9,363.2 L363.6,363.4 L362.3,363.6 L361.0,363.8 L359.8,364.0 L358.5,364.2 L357.2,364.4 L355.9,364.6 L354.6,364.8 L353.3,365.0 L352.0,365.2 L350.7,365.4 L349.4,365.6 L348.1,365.8 L346.8,366.0 L345.5,366.2 L344.2,366.4 L342.9,366.6 L341.6,366.8 L340.3,367.0 L339.0,367.2 L337.7,367.4 L336.4,367.7 L335.1,367.9 L333.8,368.1 L332.4,368.3 L331.1,368.5 L329.8,368.7 L328.5,368.9 L327.2,369.1 L325.9,369.3 L324.6,369.5 L323.3,369.7 L321.9,369.9 L320.6,370.1 L319.3,370.3 L318.0,370.5 L316.7,370.7 L315.4,370.9 L314.0,371.1 L312.7,371.3 L311.4,371.5 L310.1,371.7 L308.8,371.9 L307.5,372.1 L306.1,372.3 L304.8,372.5 L303.5,372.7 L302.2,372.9 L300.9,373.1 L299.5,373.3 L298.2,373.5 L296.9,373.6 L295.6,373.8 L294.3,374.0 L292.9,374.2 L291.6,374.4 L290.3,374.6 L289.0,374.8 L287.7,374.9 L286.3,375.1 L285.0,375.3 L283.7,375.5 L282.4,375.7 L281.1,375.8 L279.8,376.0 L278.4,376.2 L277.1,376.4 L275.8,376.5 L274.5,376.7 L273.2,376.9 L271.9,377.0 L270.6,377.2 L269.3,377.4 L267.9,377.5 L266.6,377.7 L265.3,377.8 L264.0,378.0 L262.7,378.1 L261.4,378.3 L260.1,378.4 L258.8,378.6 L257.5,378.7 L256.2,378.9 L254.9,379.0 L253.6,379.2 L252.3,379.3 L251.0,379.4 L249.7,379.6 L248.4,379.7 L247.1,379.8 L245.8,380.0 L244.5,380.1 L243.2,380.2" fill="none" stroke="#000" stroke-width="3.5" stroke-linejoin="round"/>
<g stroke="#303030" stroke-width="1.1" fill="none">
<rect x="59.7" y="11.6" width="473.60" height="370.40"/>
<path d="M112.32,382.0 v-4.7 M112.32,11.6 v4.7"/>
<path d="M164.94,382.0 v-4.7 M164.94,11.6 v4.7"/>
<path d="M217.57,382.0 v-4.7 M217.57,11.6 v4.7"/>
<path d="M270.19,382.0 v-4.7 M270.19,11.6 v4.7"/>
<path d="M322.81,382.0 v-4.7 M322.81,11.6 v4.7"/>
<path d="M375.43,382.0 v-4.7 M375.43,11.6 v4.7"/>
<path d="M428.06,382.0 v-4.7 M428.06,11.6 v4.7"/>
<path d="M480.68,382.0 v-4.7 M480.68,11.6 v4.7"/>
<path d="M59.7,329.09 h4.7 M533.3,329.09 h-4.7"/>
<path d="M59.7,276.17 h4.7 M533.3,276.17 h-4.7"/>
<path d="M59.7,223.26 h4.7 M533.3,223.26 h-4.7"/>
<path d="M59.7,170.34 h4.7 M533.3,170.34 h-4.7"/>
<path d="M59.7,117.43 h4.7 M533.3,117.43 h-4.7"/>
<path d="M59.7,64.51 h4.7 M533.3,64.51 h-4.7"/>
</g>
<text transform="translate(58.9,403.4) scale(1,1.09)" font-size="14.2px" text-anchor="middle" xml:space="preserve">− 0.6</text>
<text transform="translate(111.5,403.4) scale(1,1.09)" font-size="14.2px" text-anchor="middle" xml:space="preserve">− 0.4</text>
<text transform="translate(164.1,403.4) scale(1,1.09)" font-size="14.2px" text-anchor="middle" xml:space="preserve">− 0.2</text>
<text transform="translate(216.8,403.4) scale(1,1.09)" font-size="14.2px" text-anchor="middle" xml:space="preserve">0</text>
<text transform="translate(269.4,403.4) scale(1,1.09)" font-size="14.2px" text-anchor="middle" xml:space="preserve">0.2</text>
<text transform="translate(322.0,403.4) scale(1,1.09)" font-size="14.2px" text-anchor="middle" xml:space="preserve">0.4</text>
<text transform="translate(374.6,403.4) scale(1,1.09)" font-size="14.2px" text-anchor="middle" xml:space="preserve">0.6</text>
<text transform="translate(427.3,403.4) scale(1,1.09)" font-size="14.2px" text-anchor="middle" xml:space="preserve">0.8</text>
<text transform="translate(479.9,403.4) scale(1,1.09)" font-size="14.2px" text-anchor="middle" xml:space="preserve">1</text>
<text transform="translate(532.5,403.4) scale(1,1.09)" font-size="14.2px" text-anchor="middle" xml:space="preserve">1.2</text>
<text transform="translate(52.4,387.8) scale(1,1.09)" font-size="14.2px" text-anchor="end">0</text>
<text transform="translate(52.4,334.9) scale(1,1.09)" font-size="14.2px" text-anchor="end">20</text>
<text transform="translate(52.4,282.0) scale(1,1.09)" font-size="14.2px" text-anchor="end">40</text>
<text transform="translate(52.4,229.1) scale(1,1.09)" font-size="14.2px" text-anchor="end">60</text>
<text transform="translate(52.4,176.1) scale(1,1.09)" font-size="14.2px" text-anchor="end">80</text>
<text transform="translate(52.4,123.2) scale(1,1.09)" font-size="14.2px" text-anchor="end">100</text>
<text transform="translate(52.4,70.3) scale(1,1.09)" font-size="14.2px" text-anchor="end">120</text>
<text transform="translate(52.4,17.4) scale(1,1.09)" font-size="14.2px" text-anchor="end">140</text>
<text transform="translate(295.3,424.2) scale(1,1.04)" font-size="15.4px" text-anchor="middle">-u<tspan dx="0.8" dy="7.24" font-size="12.32px">1</tspan><tspan dx="1.3" dy="-7.24">/L,-u</tspan><tspan dx="0.8" dy="7.24" font-size="12.32px">3</tspan><tspan dx="1.3" dy="-7.24">/L</tspan></text>
<text transform="translate(19.4,197.6) rotate(-90) scale(1,0.97)" font-size="15.7px" text-anchor="middle">P/KN</text>
<text transform="translate(260.0,216.8) scale(1,1.0)" font-size="13.4px" text-anchor="start">-u<tspan dx="0.8" dy="6.70" font-size="10.72px">3</tspan><tspan dx="1.3" dy="-6.70">/L</tspan></text>
<text transform="translate(371.3,211.5) scale(1,1.0)" font-size="13.4px" text-anchor="start">-u<tspan dx="0.8" dy="6.70" font-size="10.72px">1</tspan><tspan dx="1.3" dy="-6.70">/L</tspan></text>
<rect x="77.7" y="146.6" width="120.2" height="100.8" fill="#fff" stroke="#303030" stroke-width="1.1"/>
<path d="M82.1,160.8 H126" stroke="#0a14f5" stroke-width="3.3" fill="none"/>
<text transform="translate(129.0,162.9) scale(1,1.0)" font-size="12.8px" text-anchor="start">u<tspan dx="0.8" dy="7.04" font-size="10.24px">3</tspan><tspan dx="1.3" dy="-7.04">-Present</tspan></text>
<path d="M82.1,185.2 H126" stroke="#5ad20f" stroke-width="3.3" fill="none"/>
<text transform="translate(129.0,187.1) scale(1,1.0)" font-size="12.8px" text-anchor="start">u<tspan dx="0.8" dy="7.04" font-size="10.24px">1</tspan><tspan dx="1.3" dy="-7.04">-Present</tspan></text>
<path d="M82.1,209.6 H126" stroke="#fb0a0a" stroke-width="3.3" fill="none"/>
<text transform="translate(129.0,211.7) scale(1,1.0)" font-size="12.8px" text-anchor="start">u<tspan dx="0.8" dy="7.04" font-size="10.24px">1</tspan><tspan dx="1.3" dy="-7.04">-Argyris</tspan></text>
<path d="M82.1,234.1 H126" stroke="#000" stroke-width="3.3" fill="none"/>
<text transform="translate(129.0,235.4) scale(1,1.0)" font-size="12.8px" text-anchor="start">u<tspan dx="0.8" dy="7.04" font-size="10.24px">3</tspan><tspan dx="1.3" dy="-7.04">-Argyris</tspan></text>
<circle cx="104.2" cy="160.8" r="3.65" fill="#0a14f5" stroke="none"/>
<circle cx="104.2" cy="185.2" r="3.15" fill="#5ad20f" stroke="none"/>
</svg>
</body></html>
